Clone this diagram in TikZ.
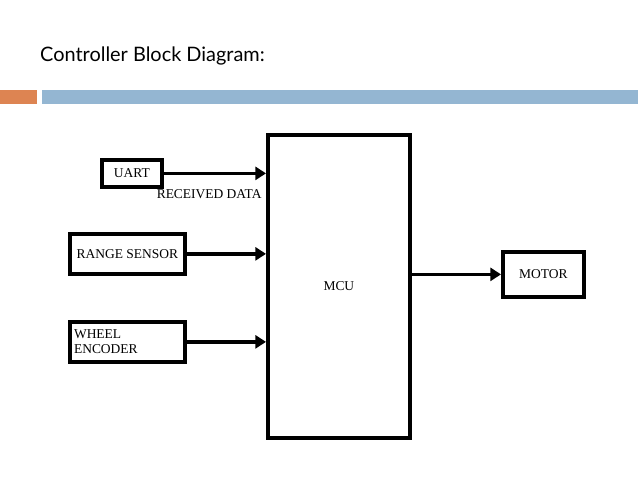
\documentclass[tikz,border=0pt]{standalone}
\usepackage{fontspec}
\setmainfont{Liberation Serif}
\newfontfamily\titlefont{Lato}
\usetikzlibrary{arrows.meta, positioning}
\definecolor{barorange}{RGB}{221, 132, 82}
\definecolor{barblue}{RGB}{148, 182, 210}

\begin{document}
\begin{tikzpicture}[
    x=0.03cm, y=-0.03cm,
    block/.style={draw, line width=3.2pt, inner sep=0pt, font=\fontsize{11.5}{12.5}\selectfont},
    sig/.style={line width=3.2pt, -{Triangle[length=9pt, width=11pt]}}
]
\useasboundingbox (0,0) rectangle (638,479);

% Header
\node[anchor=base west, font=\titlefont\fontsize{17}{20}\selectfont] (title) at (36,62) {Controller Block Diagram:};
\fill[barorange] (0,90) rectangle (37,104);
\fill[barblue] (42,90) rectangle (638,104);

% Blocks
\node[block, anchor=north west, minimum width=4.26cm, minimum height=9.09cm] (mcu) at (266,133) {MCU};
\node[block, anchor=north west, minimum width=1.8cm, minimum height=0.81cm] (uart) at (100,158) {UART};
\node[block, anchor=north west, minimum width=3.45cm, minimum height=1.2cm] (range) at (68,232) {RANGE SENSOR};
\node[block, anchor=north west, minimum width=3.45cm, minimum height=1.2cm, align=left, text width=3.2cm] (wheel) at (68,320) {WHEEL\\ENCODER};
\node[block, anchor=north west, minimum width=2.43cm, minimum height=1.35cm] (motor) at (501,250) {MOTOR};

% Signals
\draw[sig] (uart.east) -- (uart.east -| mcu.west);
\draw[sig] (range.east) -- (range.east -| mcu.west);
\draw[sig] (wheel.east) -- (wheel.east -| mcu.west);
\draw[sig] (mcu.east |- motor.west) -- (motor.west);
\node[anchor=north east, font=\fontsize{11.5}{12.5}\selectfont, inner sep=1pt] (rx) at (263,188) {RECEIVED DATA};

\end{tikzpicture}
\end{document}
